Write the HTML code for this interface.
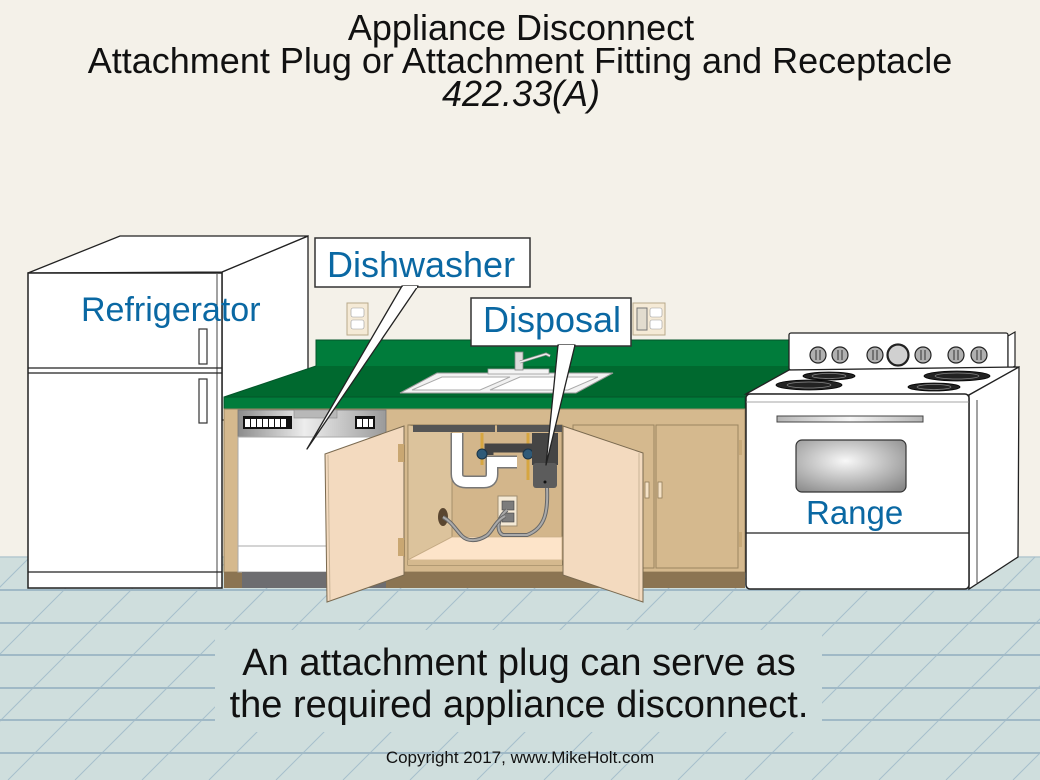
<!DOCTYPE html>
<html><head><meta charset="utf-8">
<style>
html,body{margin:0;padding:0;background:#f4f1e9;}
svg{display:block;}
text{font-family:"Liberation Sans",Arial,sans-serif;}
</style></head><body>
<svg width="1040" height="780" viewBox="0 0 1040 780" xmlns="http://www.w3.org/2000/svg">
<defs>
<linearGradient id="dwp" x1="0" y1="0" x2="1" y2="0">
 <stop offset="0" stop-color="#8c8c8c"/><stop offset="0.45" stop-color="#ededed"/><stop offset="1" stop-color="#9a9a9a"/>
</linearGradient>
<radialGradient id="win" cx="0.45" cy="0.4" r="0.75">
 <stop offset="0" stop-color="#f8f8f8"/><stop offset="1" stop-color="#868686"/>
</radialGradient>
<linearGradient id="bar" x1="0" y1="0" x2="1" y2="0"><stop offset="0" stop-color="#b5b5b5"/><stop offset="0.5" stop-color="#f6f6f6"/><stop offset="1" stop-color="#b5b5b5"/></linearGradient>
</defs>

<!-- wall -->
<rect width="1040" height="780" fill="#f4f1e9"/>
<!-- floor -->
<rect y="557" width="1040" height="223" fill="#cfdedd"/>
<line x1="0" y1="557" x2="1040" y2="557" stroke="#b3c8d0" stroke-width="1.5"/>
<g stroke="#a6bfcc" stroke-width="1">
<line x1="-260" y1="780" x2="-37" y2="557"/>
<line x1="-193" y1="780" x2="30" y2="557"/>
<line x1="-126" y1="780" x2="97" y2="557"/>
<line x1="-59" y1="780" x2="164" y2="557"/>
<line x1="8" y1="780" x2="231" y2="557"/>
<line x1="75" y1="780" x2="298" y2="557"/>
<line x1="142" y1="780" x2="365" y2="557"/>
<line x1="209" y1="780" x2="432" y2="557"/>
<line x1="276" y1="780" x2="499" y2="557"/>
<line x1="343" y1="780" x2="566" y2="557"/>
<line x1="410" y1="780" x2="633" y2="557"/>
<line x1="477" y1="780" x2="700" y2="557"/>
<line x1="544" y1="780" x2="767" y2="557"/>
<line x1="611" y1="780" x2="834" y2="557"/>
<line x1="678" y1="780" x2="901" y2="557"/>
<line x1="745" y1="780" x2="968" y2="557"/>
<line x1="812" y1="780" x2="1035" y2="557"/>
<line x1="879" y1="780" x2="1102" y2="557"/>
<line x1="946" y1="780" x2="1169" y2="557"/>
<line x1="1013" y1="780" x2="1236" y2="557"/>
</g>
<g stroke="#a0b9c6" stroke-width="2">
<line x1="0" y1="590" x2="1040" y2="590"/>
<line x1="0" y1="623" x2="1040" y2="623"/>
<line x1="0" y1="655" x2="1040" y2="655"/>
<line x1="0" y1="688" x2="1040" y2="688"/>
<line x1="0" y1="720" x2="1040" y2="720"/>
<line x1="0" y1="753" x2="1040" y2="753"/>
</g>
<rect x="215" y="630" width="607" height="102" fill="#cfdedd"/>

<!-- refrigerator -->
<polygon points="222,272 308,236 308,420 222,420" fill="#fff" stroke="#222" stroke-width="1.3"/>
<polygon points="28,273 120,236 308,236 222,272" fill="#fff" stroke="#222" stroke-width="1.3"/>
<rect x="28" y="273" width="194" height="315" fill="#fff" stroke="#222" stroke-width="1.5"/>
<line x1="217" y1="274" x2="217" y2="587" stroke="#444" stroke-width="1"/>
<line x1="28" y1="368" x2="222" y2="368" stroke="#222" stroke-width="1.3"/>
<line x1="28" y1="373" x2="222" y2="373" stroke="#222" stroke-width="1.3"/>
<line x1="28" y1="572" x2="222" y2="572" stroke="#222" stroke-width="1.3"/>
<rect x="199" y="329" width="8" height="35" fill="#fff" stroke="#333" stroke-width="1.2"/>
<rect x="199" y="379" width="8" height="44" fill="#fff" stroke="#333" stroke-width="1.2"/>

<!-- counter -->
<rect x="316" y="340" width="480" height="27" fill="#007c3b" stroke="#04552a" stroke-width="1"/>
<polygon points="224,397 316,366 796,366 796,397" fill="#00692f"/>
<line x1="224" y1="397" x2="316" y2="366" stroke="#04552a" stroke-width="1"/>
<rect x="224" y="397" width="521" height="12" fill="#007c3b" stroke="#04552a" stroke-width="1"/>

<!-- sink -->
<polygon points="400,393 437,373 613,373 576,393" fill="#f2f2f2" stroke="#9a9a9a" stroke-width="1"/>
<polygon points="412,390 442,377 510,377 480,390" fill="#fff" stroke="#aaa" stroke-width="1"/>
<polygon points="490,390 520,377 598,377 568,390" fill="#fff" stroke="#aaa" stroke-width="1"/>
<rect x="488" y="369" width="61" height="5" fill="#f4f4f4" stroke="#999" stroke-width="0.8"/>
<rect x="515" y="352" width="8" height="18" fill="#dcdcdc" stroke="#888" stroke-width="0.8"/>
<path d="M520,362 L546,354 L550,356" fill="none" stroke="#888" stroke-width="3"/>
<path d="M520,362 L546,354 L550,356" fill="none" stroke="#eee" stroke-width="1.5"/>

<!-- wall receptacles -->
<rect x="347" y="303" width="21" height="32" fill="#f5ead6" stroke="#b9a98a" stroke-width="1"/>
<rect x="351" y="308" width="13" height="9" rx="2" fill="#fff" stroke="#999" stroke-width="0.6"/>
<rect x="351" y="320" width="13" height="9" rx="2" fill="#fff" stroke="#999" stroke-width="0.6"/>
<rect x="633" y="303" width="32" height="32" fill="#f5ead6" stroke="#b9a98a" stroke-width="1"/>
<rect x="637" y="308" width="10" height="22" fill="#e2dccf" stroke="#777" stroke-width="1"/>
<rect x="650" y="308" width="12" height="9" rx="2" fill="#fff" stroke="#999" stroke-width="0.6"/>
<rect x="650" y="320" width="12" height="9" rx="2" fill="#fff" stroke="#999" stroke-width="0.6"/>

<!-- cabinets -->
<rect x="224" y="409" width="521" height="163" fill="#d5b98e" stroke="#9a8560" stroke-width="1"/>
<rect x="224" y="572" width="521" height="16" fill="#8b7452"/>
<!-- dishwasher -->
<rect x="238" y="410" width="148" height="27" fill="url(#dwp)" stroke="#777" stroke-width="0.8"/>
<rect x="294" y="410" width="43" height="8" fill="#b8b8b8" stroke="#888" stroke-width="0.6"/>
<rect x="243" y="416" width="49" height="13" fill="#111"/>
<g fill="#fff"><rect x="245" y="419" width="5" height="8"/><rect x="251" y="419" width="5" height="8"/><rect x="257" y="419" width="5" height="8"/><rect x="263" y="419" width="5" height="8"/><rect x="269" y="419" width="5" height="8"/><rect x="275" y="419" width="5" height="8"/><rect x="281" y="419" width="5" height="8"/></g>
<rect x="355" y="416" width="20" height="13" fill="#111"/>
<g fill="#fff"><rect x="357" y="419" width="5" height="8"/><rect x="363" y="419" width="5" height="8"/><rect x="369" y="419" width="4" height="8"/></g>
<rect x="238" y="437" width="148" height="135" fill="#fff" stroke="#aaa" stroke-width="1"/>
<line x1="238" y1="546" x2="386" y2="546" stroke="#aaa" stroke-width="1"/>
<rect x="242" y="572" width="144" height="16" fill="#6d6d70"/>

<!-- sink cabinet interior -->
<rect x="408" y="425" width="154" height="140" fill="#d3b68b" stroke="#8f7b58" stroke-width="1"/>
<polygon points="408,425 452,432 452,537 408,560" fill="#dcc39c" stroke="#9a8560" stroke-width="0.8"/>
<polygon points="408,560 452,537 562,537 562,560" fill="#fde4c9" stroke="#c9ae88" stroke-width="0.8"/>
<rect x="408" y="560" width="154" height="5" fill="#d5b98e"/>
<rect x="413" y="425" width="82" height="7" fill="#555"/>
<rect x="497" y="425" width="65" height="7" fill="#555"/>
<!-- plumbing -->
<path d="M457,433 L457,474 Q457,482 466,482 L484,482 Q492,482 492,474 L492,462 L517,462" fill="none" stroke="#777" stroke-width="13"/>
<path d="M457,433 L457,474 Q457,482 466,482 L484,482 Q492,482 492,474 L492,462 L517,462" fill="none" stroke="#fff" stroke-width="10"/>
<line x1="482" y1="433" x2="482" y2="465" stroke="#d6a640" stroke-width="3"/>
<line x1="528" y1="433" x2="528" y2="480" stroke="#d6a640" stroke-width="3"/>
<path d="M489,455 L489,448 L537,448" fill="none" stroke="#444" stroke-width="9"/>
<circle cx="482" cy="454" r="5" fill="#2f5a78" stroke="#1a3346" stroke-width="1"/>
<circle cx="528" cy="454" r="5" fill="#2f5a78" stroke="#1a3346" stroke-width="1"/>
<rect x="532" y="433" width="26" height="32" fill="#454545"/>
<rect x="533" y="463" width="24" height="25" rx="3" fill="#5c5c5c"/>
<circle cx="545" cy="482" r="1.5" fill="#111"/>
<rect x="498" y="496" width="19" height="30" fill="#f5ead6" stroke="#a08f70" stroke-width="1"/>
<rect x="502" y="501" width="12" height="9" fill="#7c7c7c" stroke="#444" stroke-width="0.6"/>
<rect x="502" y="513" width="12" height="9" fill="#7c7c7c" stroke="#444" stroke-width="0.6"/>
<ellipse cx="443" cy="517" rx="5" ry="9" fill="#5a4630"/>
<path d="M547,488 C548,510 546,528 527,535 L503,535 C496,532 497,518 507,510" fill="none" stroke="#666" stroke-width="4"/>
<path d="M547,488 C548,510 546,528 527,535 L503,535 C496,532 497,518 507,510" fill="none" stroke="#aaa" stroke-width="2"/>
<path d="M505,516 C494,522 492,533 486,536 C478,541 468,542 462,536 C456,530 452,522 443,517" fill="none" stroke="#666" stroke-width="4"/>
<path d="M505,516 C494,522 492,533 486,536 C478,541 468,542 462,536 C456,530 452,522 443,517" fill="none" stroke="#aaa" stroke-width="2"/>

<!-- right cabinet doors -->
<rect x="573" y="425" width="81" height="143" fill="#d5b98e" stroke="#9a8560" stroke-width="1"/>
<rect x="656" y="425" width="82" height="143" fill="#d5b98e" stroke="#9a8560" stroke-width="1"/>
<rect x="645" y="482" width="4" height="16" fill="#f5e2c6" stroke="#8f7b58" stroke-width="0.8"/>
<rect x="658" y="482" width="4" height="16" fill="#f5e2c6" stroke="#8f7b58" stroke-width="0.8"/>
<rect x="739" y="440" width="3" height="15" fill="#c7a979"/>
<rect x="739" y="532" width="3" height="15" fill="#c7a979"/>

<!-- hinges on frame -->
<rect x="399" y="445" width="6" height="17" fill="#c9a772"/>
<rect x="399" y="540" width="6" height="17" fill="#c9a772"/>
<rect x="563" y="445" width="6" height="17" fill="#c9a772"/>
<rect x="563" y="540" width="6" height="17" fill="#c9a772"/>

<!-- open doors -->
<polygon points="325,454 404,426 404,575 327,602" fill="#f3dabf" stroke="#7a6a50" stroke-width="1"/>
<line x1="328" y1="455" x2="330" y2="600" stroke="#c9b497" stroke-width="1"/>
<rect x="398" y="444" width="6" height="18" fill="#c9a772"/>
<rect x="398" y="538" width="6" height="18" fill="#c9a772"/>
<polygon points="563,426 643,453 643,602 563,575" fill="#f3dabf" stroke="#7a6a50" stroke-width="1"/>
<line x1="639" y1="453" x2="639" y2="600" stroke="#c9b497" stroke-width="1"/>

<!-- range -->
<rect x="789" y="333" width="219" height="37" rx="2" fill="#fff" stroke="#222" stroke-width="1.3"/>
<polygon points="1008,336 1015,332 1015,366 1008,370" fill="#fff" stroke="#222" stroke-width="1.2"/>
<polygon points="746,394 789,370 1019,367 969,395" fill="#fff" stroke="#222" stroke-width="1.3"/>
<polygon points="969,395 1019,367 1018,557 969,589" fill="#fff" stroke="#222" stroke-width="1.3"/>
<line x1="977" y1="400" x2="977" y2="583" stroke="#444" stroke-width="1"/>
<rect x="746" y="394" width="223" height="195" rx="4" fill="#fff" stroke="#222" stroke-width="1.5"/>
<line x1="746" y1="402" x2="969" y2="402" stroke="#888" stroke-width="0.8"/>
<line x1="746" y1="533" x2="969" y2="533" stroke="#222" stroke-width="1.2"/>
<rect x="777" y="416" width="146" height="6" fill="url(#bar)" stroke="#444" stroke-width="1"/>
<rect x="796" y="440" width="110" height="52" rx="6" fill="url(#win)" stroke="#333" stroke-width="1.2"/>
<!-- burners -->
<g fill="#222" stroke="#000" stroke-width="0.8">
<ellipse cx="829" cy="376" rx="26" ry="4"/>
<ellipse cx="809" cy="385" rx="33" ry="5"/>
<ellipse cx="957" cy="376" rx="33" ry="5"/>
<ellipse cx="934" cy="387" rx="26" ry="4"/>
</g>
<g fill="none" stroke="#888" stroke-width="0.7">
<ellipse cx="829" cy="376" rx="17" ry="2.5"/>
<ellipse cx="809" cy="385" rx="22" ry="3"/>
<ellipse cx="957" cy="376" rx="22" ry="3"/>
<ellipse cx="934" cy="387" rx="17" ry="2.5"/>
</g>
<!-- knobs -->
<g fill="#b0b0b0" stroke="#222" stroke-width="1.2">
<circle cx="818" cy="355" r="8"/><circle cx="840" cy="355" r="8"/><circle cx="875" cy="355" r="8"/>
<circle cx="923" cy="355" r="8"/><circle cx="956" cy="355" r="8"/><circle cx="979" cy="355" r="8"/>
</g>
<g stroke="#333" stroke-width="1">
<line x1="816" y1="350" x2="816" y2="360"/><line x1="820" y1="350" x2="820" y2="360"/>
<line x1="838" y1="350" x2="838" y2="360"/><line x1="842" y1="350" x2="842" y2="360"/>
<line x1="873" y1="350" x2="873" y2="360"/><line x1="877" y1="350" x2="877" y2="360"/>
<line x1="921" y1="350" x2="921" y2="360"/><line x1="925" y1="350" x2="925" y2="360"/>
<line x1="954" y1="350" x2="954" y2="360"/><line x1="958" y1="350" x2="958" y2="360"/>
<line x1="977" y1="350" x2="977" y2="360"/><line x1="981" y1="350" x2="981" y2="360"/>
</g>
<circle cx="898" cy="355" r="10.5" fill="#d0d0d0" stroke="#222" stroke-width="2.2"/>

<!-- callouts -->
<rect x="315" y="238" width="215" height="49" fill="#fff" stroke="#333" stroke-width="1.5"/>
<polygon points="402,286 418,286 307,449" fill="#fff" stroke="#222" stroke-width="1.3" stroke-linejoin="round"/>
<line x1="403" y1="287" x2="417" y2="287" stroke="#fff" stroke-width="2"/>
<rect x="471" y="298" width="160" height="48" fill="#fff" stroke="#333" stroke-width="1.5"/>
<polygon points="558,345 575,345 546,465" fill="#fff" stroke="#222" stroke-width="1.3" stroke-linejoin="round"/>
<line x1="559" y1="346" x2="574" y2="346" stroke="#fff" stroke-width="2"/>

<!-- labels -->
<g fill="#0a68a3">
<text x="81" y="321" font-size="34">Refrigerator</text>
<text x="327" y="277" font-size="36">Dishwasher</text>
<text x="483" y="332" font-size="36">Disposal</text>
<text x="806" y="524" font-size="33">Range</text>
</g>

<!-- title -->
<g fill="#111" text-anchor="middle">
<text x="521" y="40" font-size="36">Appliance Disconnect</text>
<text x="520" y="73" font-size="36">Attachment Plug or Attachment Fitting and Receptacle</text>
<text x="521" y="106" font-size="36" font-style="italic">422.33(A)</text>
<text x="519" y="675" font-size="38">An attachment plug can serve as</text>
<text x="519" y="717" font-size="38">the required appliance disconnect.</text>
<text x="520" y="763" font-size="17">Copyright 2017, www.MikeHolt.com</text>
</g>
</svg>
</body></html>
